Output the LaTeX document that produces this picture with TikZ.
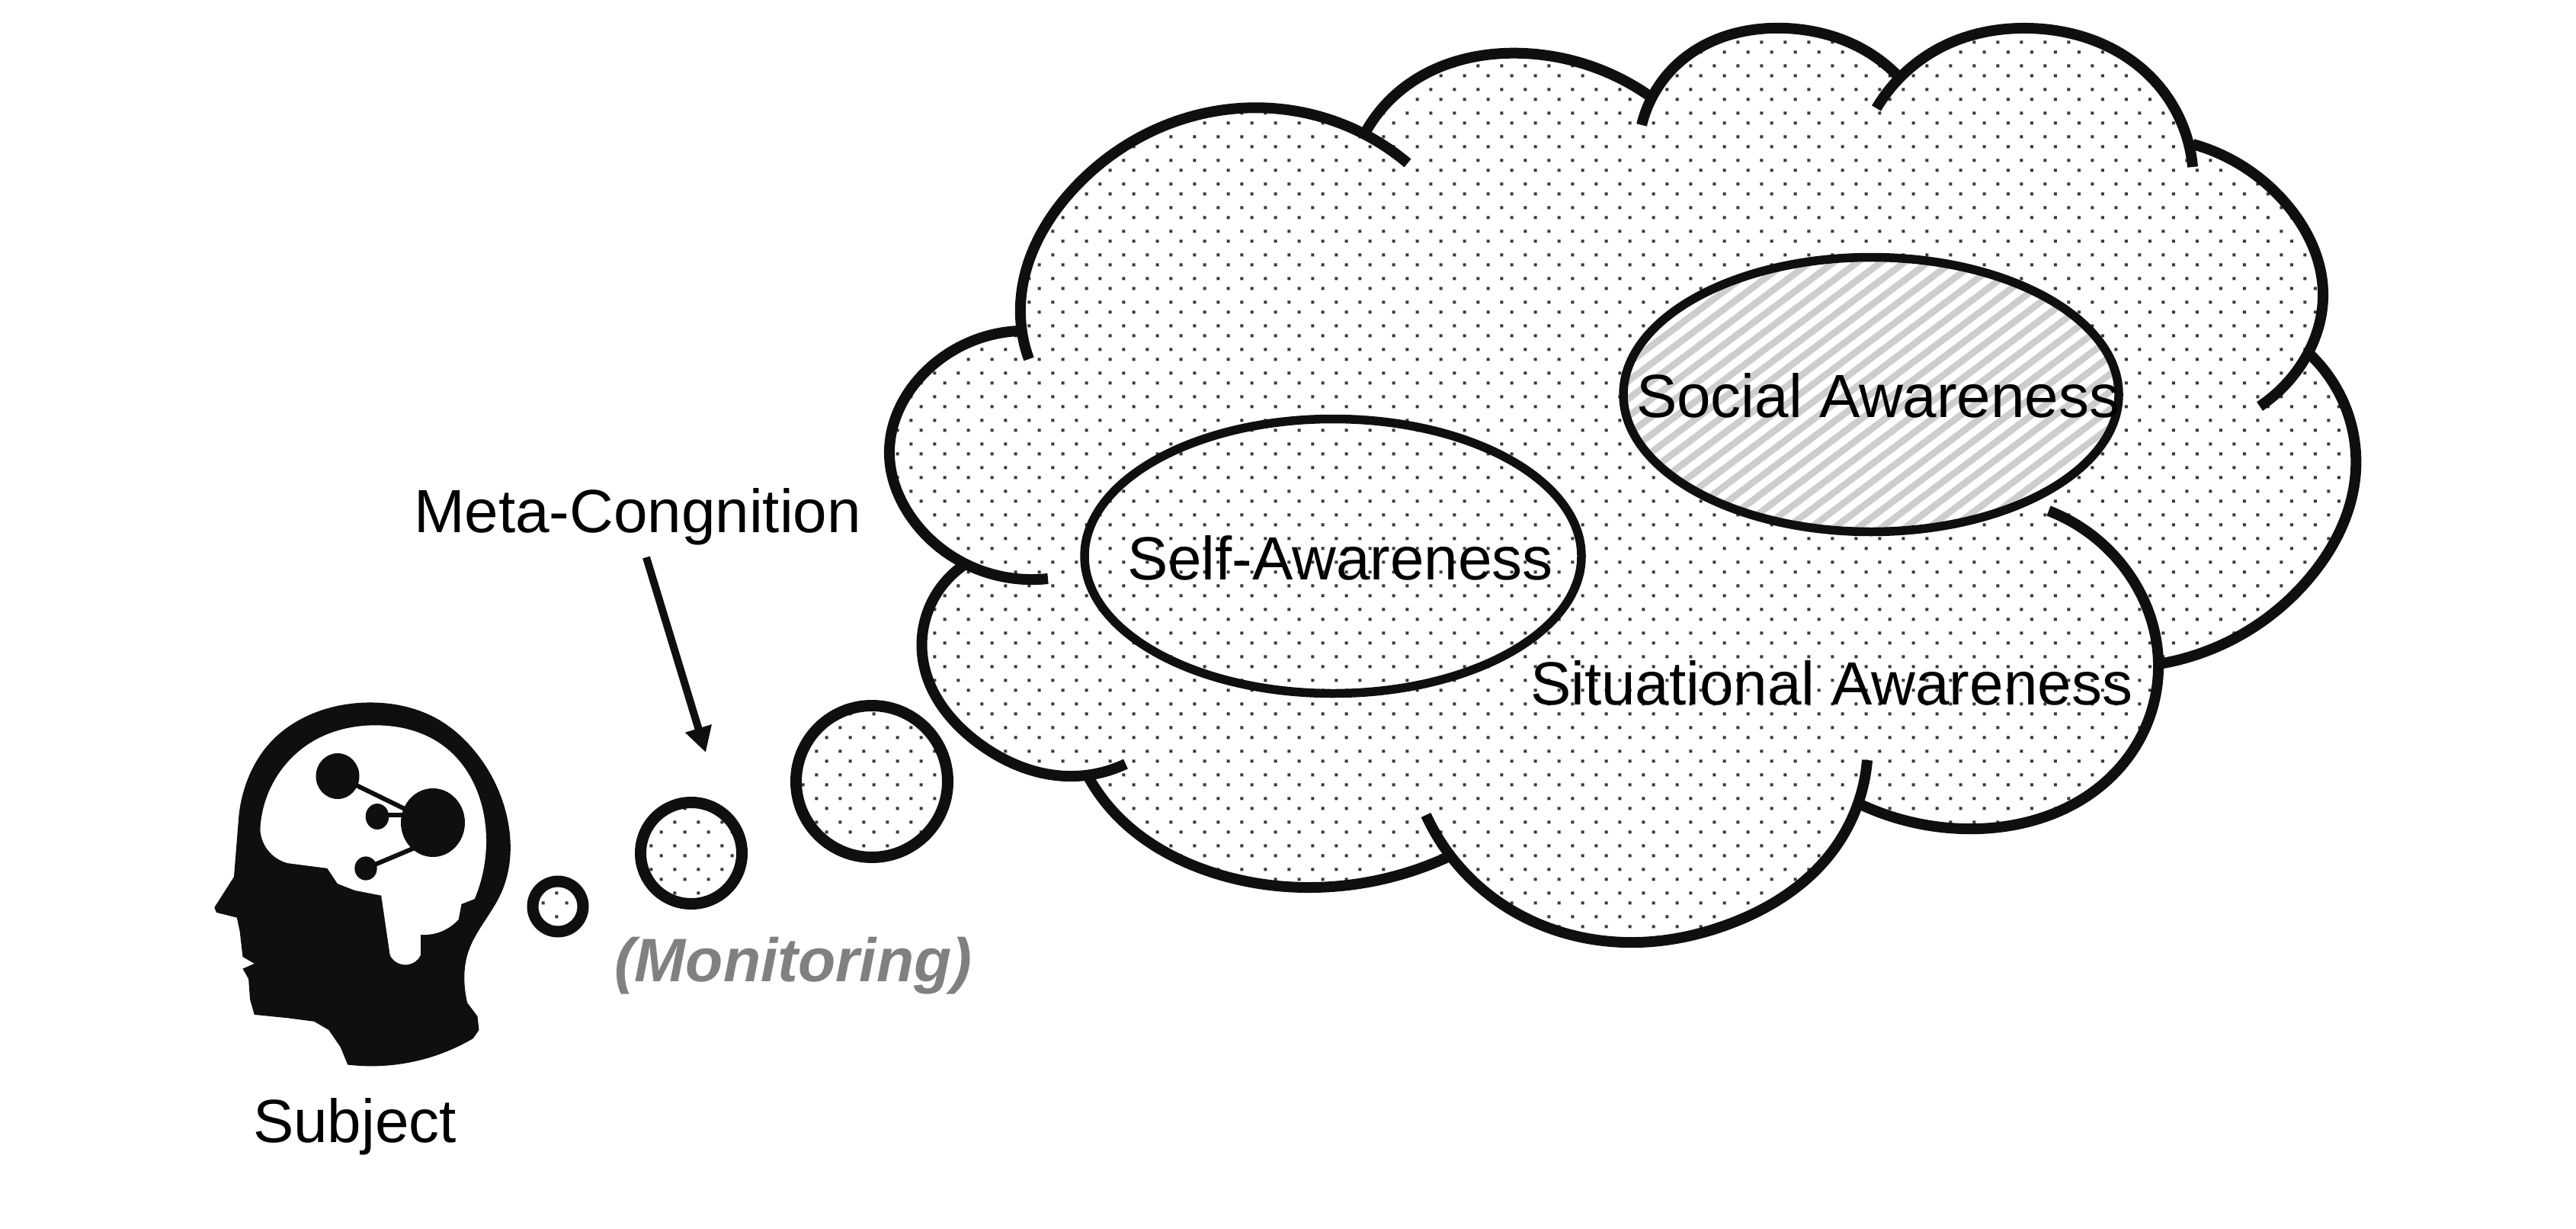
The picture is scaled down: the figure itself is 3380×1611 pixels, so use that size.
\documentclass[tikz,border=0pt]{standalone}
\usepackage{fontspec}
\setmainfont{Liberation Sans}
\usetikzlibrary{arrows.meta,hobby}
\definecolor{ink}{HTML}{0F0F0F}
\definecolor{dotc}{HTML}{3A3A3A}
\definecolor{hatch}{HTML}{CDCDCD}
\definecolor{mongray}{HTML}{808080}
% cloud lobes, clockwise on the page
\def\LA{(1375,759) .. (1258,735) .. (1190,670) .. (1167,597) .. (1217,485) .. (1337,434)}
\def\LB{(1350,471) .. (1339,400) .. (1411,245) .. (1559,154) .. (1712,148) .. (1847,214)}
\def\LC{(1793,171) .. (1842,115) .. (2000,70) .. (2163,125)}
\def\LD{(2154,164) .. (2209,77) .. (2342,37) .. (2464,77) .. (2497,107)}
\def\LE{(2462,142) .. (2553,59) .. (2660,37) .. (2818,97) .. (2877,219)}
\def\LF{(2877,189) .. (3002,270) .. (3048,383) .. (3007,495) .. (2965,533)}
\def\LG{(3030,464) .. (3091,617) .. (3032,756) .. (2838,870)}
\def\LH{(2688,670) .. (2792,751) .. (2832,875) .. (2783,1005) .. (2575,1087) .. (2441,1055)}
\def\LI{(2450,997) .. (2404,1117) .. (2266,1213) .. (2149,1236) .. (1965,1182) .. (1871,1069)}
\def\LJ{(1902,1123) .. (1722,1164) .. (1581,1141) .. (1465,1069) .. (1428,1019)}
\def\LK{(1477,1002) .. (1399,1018) .. (1287,977) .. (1210,857) .. (1268,739)}
\newcommand{\dotgrid}[4]{%
  \fill[dotc] \foreach \i in {#1,...,#2}{\foreach \j in {#3,...,#4}{
    ({1255.3+31*\i},{797.3+31*\j}) rectangle ++(4,4)
    ({1237.7+31*\i},{810.3+31*\j}) rectangle ++(4,4)}};}
\tikzset{
  lobe/.style={draw=ink,line width=2.8pt,use Hobby shortcut},
  bubble/.style={draw=ink,line width=3pt},
  oval/.style={draw=ink,line width=2.3pt},
  label/.style={anchor=base west,inner sep=0pt,outer sep=0pt,text=black},
}
\begin{document}
\begin{tikzpicture}[x=0.2pt,y=-0.2pt]
\useasboundingbox (0,0) rectangle (3380,1611);
\fill[white] (0,0) rectangle (3380,1611);
% dotted fill of the cloud
\begin{scope}
\clip[use Hobby shortcut] \LA -- \LB -- \LC -- \LD -- \LE -- \LF -- \LG -- \LH -- \LI -- \LJ -- \LK -- cycle;
\dotgrid{-4}{59}{-25}{15}
\end{scope}
% cloud outline
\draw[lobe] \LA;
\draw[lobe] \LB;
\draw[lobe] \LC;
\draw[lobe] \LD;
\draw[lobe] \LE;
\draw[lobe] \LF;
\draw[lobe] \LG;
\draw[lobe] \LH;
\draw[lobe] \LI;
\draw[lobe] \LJ;
\draw[lobe] \LK;
% thought bubbles
\begin{scope}
\clip (732,1189) circle[radius=33];
\dotgrid{-19}{-15}{11}{13}
\end{scope}
\draw[bubble] (732,1189) circle[radius=33];
\begin{scope}
\clip (907,1119) circle[radius=66.5];
\dotgrid{-15}{-9}{7}{12}
\end{scope}
\draw[bubble] (907,1119) circle[radius=66.5];
\begin{scope}
\clip (1144,1025) circle[radius=99.5];
\dotgrid{-8}{-1}{3}{11}
\end{scope}
\draw[bubble] (1144,1025) circle[radius=99.5];
% awareness ovals
\draw[oval] (1749,729.5) ellipse[x radius=326,y radius=180];
\fill[white] (2455,517.5) ellipse[x radius=325,y radius=180];
\begin{scope}
\clip (2455,517.5) ellipse[x radius=325,y radius=180];
\foreach \k in {-12,...,32}
  \draw[hatch,line width=1.75pt] (2100,{527+23.25*\k}) -- (2800,{2+23.25*\k});
\end{scope}
\draw[oval] (2455,517.5) ellipse[x radius=325,y radius=180];
% head
\begin{scope}[shift={(240,900)},x=0.07654pt,y=-0.08929pt]
\fill[ink,use Hobby shortcut] (190,400) .. (215,290) .. (300,165) .. (420,90) .. (640,48) .. (880,100) .. (1000,190) .. (1115,400) .. (1090,610) .. (975,790) .. (965,860) .. (975,930) -- (1010,970) -- (1015,1010) -- (995,1035) .. (780,1105) .. (565,1112) -- (540,1060) -- (500,1010) -- (450,985) -- (360,975) -- (245,965) -- (230,920) -- (225,860) -- (205,830) -- (245,815) -- (205,795) -- (195,720) -- (185,680) -- (115,665) -- (108,650) -- (175,560) -- cycle;
\fill[white,use Hobby shortcut] (265,420) .. (290,320) .. (450,160) .. (650,115) .. (900,180) .. (1030,370) .. (1040,450) .. (1000,625) -- (955,640) -- (945,685) .. (900,715) .. (815,730) -- (815,790) .. (770,818) .. (710,790) -- (680,615) -- (590,600) -- (530,580) -- (495,535) -- (360,520) .. (290,480) .. (265,420) -- cycle;
\end{scope}
\fill[ink] (443,1018) ellipse[x radius=28.5,y radius=30];
\fill[ink] (568,1079) ellipse[x radius=42,y radius=45];
\fill[ink] (495,1071) ellipse[x radius=15.3,y radius=17];
\fill[ink] (480,1139) ellipse[x radius=14.7,y radius=15.6];
\draw[ink,line width=1.2pt] (443,1018) -- (568,1079);
\draw[ink,line width=1.2pt] (495,1069) -- (568,1069);
\draw[ink,line width=1.2pt] (480,1139) -- (568,1102);
% arrow
\coordinate (arrowstart) at (848,731);
\coordinate (arrowtip) at (926,987);
\draw[draw=ink,line width=2pt,-{Triangle[length=6.6pt,width=6.8pt]}] (arrowstart) -- (arrowtip);
% labels
\node[label,font=\fontsize{16pt}{19pt}\selectfont] (meta) at (543,698) {Meta-Congnition};
\node[label,font=\fontsize{16pt}{19pt}\selectfont] (subject) at (332,1498) {Subject};
\node[label,font=\fontsize{16.1pt}{19pt}\bfseries\itshape\selectfont,text=mongray] (monitoring) at (806,1287) {(Monitoring)};
\node[label,font=\fontsize{16pt}{19pt}\selectfont] (self) at (1479,760) {Self-Awareness};
\node[label,font=\fontsize{16pt}{19pt}\selectfont] (social) at (2147,547) {Social Awareness};
\node[label,font=\fontsize{16pt}{19pt}\selectfont] (situational) at (2008,924) {Situational Awareness};
\end{tikzpicture}
\end{document}
